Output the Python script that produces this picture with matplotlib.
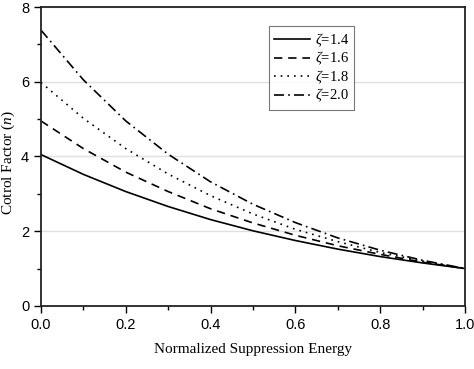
import matplotlib
matplotlib.use('Agg')
import matplotlib.pyplot as plt
from matplotlib.ticker import MultipleLocator

# values
energy = [0.0, 0.1, 0.2, 0.3, 0.4, 0.5, 0.6, 0.7, 0.8, 0.9, 1.0]
n_14 = [4.05, 3.52, 3.06, 2.66, 2.31, 2.01, 1.75, 1.52, 1.32, 1.15, 1.0]
n_16 = [4.95, 4.21, 3.58, 3.06, 2.60, 2.22, 1.89, 1.61, 1.38, 1.17, 1.0]
n_18 = [5.98, 5.02, 4.21, 3.53, 2.95, 2.46, 2.05, 1.72, 1.43, 1.20, 1.0]
n_20 = [7.38, 6.05, 4.95, 4.06, 3.32, 2.72, 2.23, 1.82, 1.49, 1.22, 1.0]
labels = [r'$\zeta$=1.4', r'$\zeta$=1.6', r'$\zeta$=1.8', r'$\zeta$=2.0']

plt.rcParams['mathtext.fontset'] = 'custom'
plt.rcParams['mathtext.rm'] = 'Liberation Serif'
plt.rcParams['mathtext.it'] = 'Liberation Serif:italic'

fig = plt.figure(figsize=(4.74, 3.69), dpi=100)
ax = fig.add_axes([0.0865, 0.171, 0.8945, 0.81])

ax.plot(energy, n_14, color='black', lw=1.2, linestyle='-', label=labels[0])
ax.plot(energy, n_16, color='black', lw=1.2, linestyle=(0, (5, 3.5)), label=labels[1])
ax.plot(energy, n_18, color='black', lw=1.2, linestyle=(0, (1, 3)), label=labels[2])
ax.plot(energy, n_20, color='black', lw=1.2, linestyle=(0, (6, 2.5, 1, 2.5)), label=labels[3])

ax.set_xlim(0, 1)
ax.set_ylim(0, 8)
ax.xaxis.set_major_locator(MultipleLocator(0.2))
ax.xaxis.set_minor_locator(MultipleLocator(0.1))
ax.yaxis.set_major_locator(MultipleLocator(2))
ax.yaxis.set_minor_locator(MultipleLocator(1))
ax.tick_params(which='major', direction='out', length=5, width=1, labelsize=10.5)
ax.tick_params(which='minor', direction='out', length=3, width=1)
for lab in ax.get_xticklabels() + ax.get_yticklabels():
    lab.set_family('Liberation Sans')

ax.grid(axis='y', which='major', color='#e0e0e0', lw=1)
ax.set_axisbelow(True)
for sp in ax.spines.values():
    sp.set_linewidth(1.3)
    sp.set_color('#222222')

ax.set_xlabel('Normalized Suppression Energy', family='Liberation Serif', fontsize=11, labelpad=8)
ax.set_ylabel(r'Cotrol Factor ($n$)', family='Liberation Serif', fontsize=11)
ax.yaxis.set_label_coords(-0.056, 0.478)

leg = ax.legend(loc='upper left', bbox_to_anchor=(0.537, 0.935), frameon=True, fancybox=False,
                prop={'family': 'Liberation Serif', 'size': 10.5}, handlelength=2.5,
                handletextpad=0.3, labelspacing=0.08, borderpad=0.35, borderaxespad=0)
leg.get_frame().set_edgecolor('#555555')
leg.get_frame().set_linewidth(0.8)

fig.savefig('out.png', dpi=100)
